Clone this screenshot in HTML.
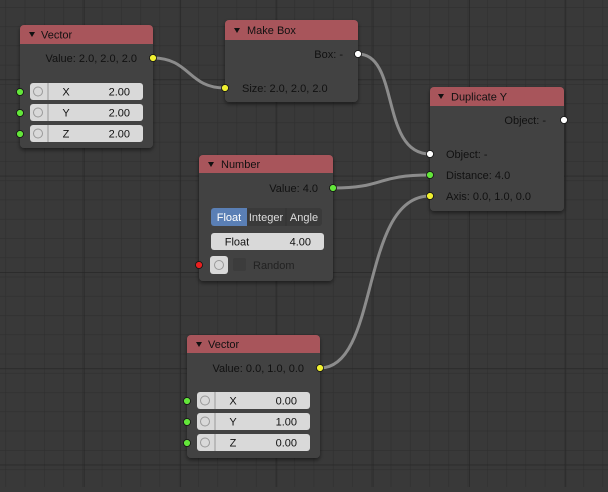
<!DOCTYPE html>
<html><head><style>
body{margin:0;width:608px;height:487px;overflow:hidden;background:#393939}
text{font-family:"Liberation Sans","DejaVu Sans",sans-serif;font-size:11px}
</style></head><body>
<svg width="608" height="487" xmlns="http://www.w3.org/2000/svg">
<defs>
<pattern id="g" x="5.5" y="7" width="19.26" height="19.26" patternUnits="userSpaceOnUse">
<path d="M0 0H19.26M0 0V19.26" stroke="#2f2f2f" stroke-width="1.2" fill="none"/>
</pattern>
<pattern id="G" x="-12.5" y="79.4" width="96.3" height="96.3" patternUnits="userSpaceOnUse">
<path d="M0 0H96.3M0 0V96.3" stroke="#272727" stroke-width="1.5" fill="none"/>
</pattern>
<filter id="sh" x="-10%" y="-10%" width="130%" height="130%"><feDropShadow dx="0" dy="2" stdDeviation="2" flood-color="#000" flood-opacity="0.5"/></filter>
</defs>
<rect width="608" height="487" fill="#393939"/>
<rect width="608" height="487" fill="url(#g)"/>
<rect width="608" height="487" fill="url(#G)"/>

<g stroke="#8c8c8c" stroke-width="3" fill="none">
<path d="M153 58 C190 58 188 88 225 88"/>
<path d="M358 54 C400 54 380 154 430 154"/>
<path d="M333 188 C385 188 375 175 430 175"/>
<path d="M320 368 C380 368 360 196 430 196"/>
</g>

<!-- Vector 1 -->
<g filter="url(#sh)"><rect x="20" y="25" width="133" height="123" rx="4" fill="#424242"/></g>
<path d="M20 44V29a4 4 0 0 1 4-4h125a4 4 0 0 1 4 4v15z" fill="#a8555b"/>
<path d="M29 32h6l-3 5z" fill="#111"/><text x="41" y="38.5" fill="#111">Vector</text>
<text x="137" y="62" text-anchor="end" fill="#111">Value: 2.0, 2.0, 2.0</text>
<rect x="30" y="83" width="113" height="17" rx="3" fill="#d9d9d9"/><line x1="48" y1="83" x2="48" y2="100" stroke="#999"/><circle cx="38" cy="91.5" r="4.5" fill="none" stroke="#999"/><text x="66" y="95.5" text-anchor="middle" fill="#111">X</text><text x="130" y="95.5" text-anchor="end" fill="#111">2.00</text>
<rect x="30" y="104" width="113" height="17" rx="3" fill="#d9d9d9"/><line x1="48" y1="104" x2="48" y2="121" stroke="#999"/><circle cx="38" cy="112.5" r="4.5" fill="none" stroke="#999"/><text x="66" y="116.5" text-anchor="middle" fill="#111">Y</text><text x="130" y="116.5" text-anchor="end" fill="#111">2.00</text>
<rect x="30" y="125" width="113" height="17" rx="3" fill="#d9d9d9"/><line x1="48" y1="125" x2="48" y2="142" stroke="#999"/><circle cx="38" cy="133.5" r="4.5" fill="none" stroke="#999"/><text x="66" y="137.5" text-anchor="middle" fill="#111">Z</text><text x="130" y="137.5" text-anchor="end" fill="#111">2.00</text>

<!-- Make Box -->
<g filter="url(#sh)"><rect x="225" y="20" width="133" height="82" rx="4" fill="#424242"/></g>
<path d="M225 40V24a4 4 0 0 1 4-4h125a4 4 0 0 1 4 4v16z" fill="#a8555b"/>
<path d="M234 28h6l-3 5z" fill="#111"/><text x="247" y="34" fill="#111">Make Box</text>
<text x="343" y="58" text-anchor="end" fill="#111">Box: -</text>
<text x="242" y="92" fill="#111">Size: 2.0, 2.0, 2.0</text>

<!-- Duplicate Y -->
<g filter="url(#sh)"><rect x="430" y="87" width="134" height="124" rx="4" fill="#424242"/></g>
<path d="M430 106V91a4 4 0 0 1 4-4h126a4 4 0 0 1 4 4v15z" fill="#a8555b"/>
<path d="M438 94h6l-3 5z" fill="#111"/><text x="451" y="100.5" fill="#111">Duplicate Y</text>
<text x="546" y="124" text-anchor="end" fill="#111">Object: -</text>
<text x="446" y="158" fill="#111">Object: -</text>
<text x="446" y="179" fill="#111">Distance: 4.0</text>
<text x="446" y="200" fill="#111">Axis: 0.0, 1.0, 0.0</text>

<!-- Number -->
<g filter="url(#sh)"><rect x="199" y="155" width="134" height="126" rx="4" fill="#424242"/></g>
<path d="M199 173V159a4 4 0 0 1 4-4h126a4 4 0 0 1 4 4v14z" fill="#a8555b"/>
<path d="M208 162h6l-3 5z" fill="#111"/><text x="221" y="168" fill="#111">Number</text>
<text x="318" y="192" text-anchor="end" fill="#111">Value: 4.0</text>
<rect x="211" y="208" width="111" height="18" rx="3" fill="#3a3a3a"/>
<path d="M214 208h33v18h-33a3 3 0 0 1-3-3v-12a3 3 0 0 1 3-3z" fill="#5a7fb5"/>
<line x1="286" y1="208" x2="286" y2="226" stroke="#333"/>
<text x="229" y="221" text-anchor="middle" fill="#fff">Float</text>
<text x="266" y="221" text-anchor="middle" fill="#ddd">Integer</text>
<text x="304" y="221" text-anchor="middle" fill="#ddd">Angle</text>
<rect x="211" y="233" width="113" height="17" rx="3" fill="#d9d9d9"/>
<text x="237" y="245.5" text-anchor="middle" fill="#111">Float</text><text x="311" y="245.5" text-anchor="end" fill="#111">4.00</text>
<rect x="210" y="256" width="18" height="18" rx="3" fill="#d9d9d9"/><circle cx="219" cy="265" r="4.5" fill="none" stroke="#999"/>
<rect x="233" y="258" width="13" height="13" rx="2" fill="#3c3c3c"/>
<text x="253" y="269" fill="#222">Random</text>

<!-- Vector 2 -->
<g filter="url(#sh)"><rect x="187" y="335" width="133" height="123" rx="4" fill="#424242"/></g>
<path d="M187 353V339a4 4 0 0 1 4-4h125a4 4 0 0 1 4 4v14z" fill="#a8555b"/>
<path d="M196 342h6l-3 5z" fill="#111"/><text x="208" y="348" fill="#111">Vector</text>
<text x="304" y="372" text-anchor="end" fill="#111">Value: 0.0, 1.0, 0.0</text>
<rect x="197" y="392" width="113" height="17" rx="3" fill="#d9d9d9"/><line x1="215" y1="392" x2="215" y2="409" stroke="#999"/><circle cx="205" cy="400.5" r="4.5" fill="none" stroke="#999"/><text x="233" y="404.5" text-anchor="middle" fill="#111">X</text><text x="297" y="404.5" text-anchor="end" fill="#111">0.00</text>
<rect x="197" y="413" width="113" height="17" rx="3" fill="#d9d9d9"/><line x1="215" y1="413" x2="215" y2="430" stroke="#999"/><circle cx="205" cy="421.5" r="4.5" fill="none" stroke="#999"/><text x="233" y="425.5" text-anchor="middle" fill="#111">Y</text><text x="297" y="425.5" text-anchor="end" fill="#111">1.00</text>
<rect x="197" y="434" width="113" height="17" rx="3" fill="#d9d9d9"/><line x1="215" y1="434" x2="215" y2="451" stroke="#999"/><circle cx="205" cy="442.5" r="4.5" fill="none" stroke="#999"/><text x="233" y="446.5" text-anchor="middle" fill="#111">Z</text><text x="297" y="446.5" text-anchor="end" fill="#111">0.00</text>

<g stroke="#111" stroke-width="0.8">
<circle cx="153" cy="58" r="3.5" fill="#f0f030"/>
<circle cx="20" cy="92" r="3.5" fill="#63e63a"/>
<circle cx="20" cy="113" r="3.5" fill="#63e63a"/>
<circle cx="20" cy="134" r="3.5" fill="#63e63a"/>
<circle cx="225" cy="88" r="3.5" fill="#f0f030"/>
<circle cx="358" cy="54" r="3.5" fill="#fff"/>
<circle cx="564" cy="120" r="3.5" fill="#fff"/>
<circle cx="430" cy="154" r="3.5" fill="#fff"/>
<circle cx="430" cy="175" r="3.5" fill="#63e63a"/>
<circle cx="430" cy="196" r="3.5" fill="#f0f030"/>
<circle cx="333" cy="188" r="3.5" fill="#63e63a"/>
<circle cx="199" cy="265" r="3.5" fill="#e82020"/>
<circle cx="320" cy="368" r="3.5" fill="#f0f030"/>
<circle cx="187" cy="401" r="3.5" fill="#63e63a"/>
<circle cx="187" cy="422" r="3.5" fill="#63e63a"/>
<circle cx="187" cy="443" r="3.5" fill="#63e63a"/>
</g>
</svg>
</body></html>
